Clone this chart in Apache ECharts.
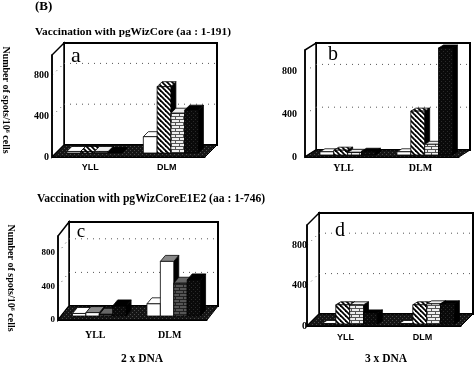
<!DOCTYPE html>
<html><head><meta charset="utf-8">
<style>html,body{margin:0;padding:0;background:#fff}#c{width:474px;height:366px}</style>
<script src="https://cdn.jsdelivr.net/npm/echarts@6/dist/echarts.min.js"></script>
</head><body><div id="c"></div>
<script>
const categories = ['YLL', 'DLM'];
const yTicks = [0, 400, 800];
// values: [YLL, DLM] per bar type
const aOpen = [15, 160], aHatch = [15, 650], aBrick = [15, 390], aSolid = [5, 420];
const bOpen = [30, 30], bHatch = [45, 410], bBrick = [25, 100], bSolid = [35, 1000];
const cOpen = [30, 145], cLight = [40, 650], cBrick = [20, 390], cSolid = [120, 430];
const dOpen = [5, 5], dHatch = [190, 190], dBrick = [190, 200], dSolid = [110, 200];

function tile(w, h, draw) {
  const cv = document.createElement('canvas'); cv.width = w; cv.height = h;
  draw(cv.getContext('2d')); return {image: cv, repeat: 'repeat'};
}
const hatchFill = tile(5, 5, g => {
  g.fillStyle = '#fff'; g.fillRect(0,0,5,5); g.strokeStyle = '#000'; g.lineWidth = 1.8;
  for (let i = -5; i <= 5; i += 5) { g.beginPath(); g.moveTo(i-1,-1); g.lineTo(i+6,6); g.stroke(); }
});
function brick(bg, fg) {
  return tile(8, 6, g => {
    g.fillStyle = bg; g.fillRect(0,0,8,6); g.fillStyle = fg;
    g.fillRect(0,2,8,1); g.fillRect(0,5,8,1); g.fillRect(3,0,1,2); g.fillRect(7,3,1,2);
  });
}
const brickFill = brick('#eee', '#555');
const darkBrickFill = brick('#555', '#222');
const solidFill = tile(4, 4, g => {
  g.fillStyle = '#0a0a0a'; g.fillRect(0,0,4,4); g.fillStyle = '#2a2a2a'; g.fillRect(1,1,1,1); g.fillRect(3,3,1,1);
});
const floorFill = tile(4, 4, g => {
  g.fillStyle = '#151515'; g.fillRect(0,0,4,4); g.fillStyle = '#4a4a4a'; g.fillRect(0,0,1,1); g.fillRect(2,2,1,1);
});

const panels = [
  {x0:52, x1:205, y1:55, y0:157, dx:12, dy:12, lift:4, bd:5, bh:5, letter:'a', lsize:22, lx:76, ly:56,
   vals:[aOpen,aHatch,aBrick,aSolid], fills:['#fff',hatchFill,brickFill,solidFill], tops:['#fff',hatchFill,'#eee','#000'],
   yFont:{fontFamily:'Liberation Serif',fontWeight:'bold',fontSize:10,margin:3},
   xFont:{fontFamily:'Liberation Sans',fontWeight:'bold',fontSize:9,margin:6}},
  {x0:305, x1:459, y1:50, y0:157, dx:11, dy:7, lift:2, bd:5, bh:3, letter:'b', lsize:20, lx:333, ly:55,
   vals:[bOpen,bHatch,bBrick,bSolid], fills:['#fff',hatchFill,brickFill,solidFill], tops:['#fff',hatchFill,'#eee','#000'],
   yFont:{fontFamily:'Liberation Serif',fontWeight:'bold',fontSize:10,margin:8},
   xFont:{fontFamily:'Liberation Serif',fontWeight:'bold',fontSize:10,margin:6}},
  {x0:58, x1:207, y1:236, y0:320, dx:11, dy:14, lift:4, bd:5, bh:6, letter:'c', lsize:19, lx:81, ly:232,
   vals:[cOpen,cLight,cBrick,cSolid], fills:['#fff','#fff',darkBrickFill,solidFill], tops:['#fff','#888','#666','#000'],
   yFont:{fontFamily:'Liberation Sans Narrow',fontWeight:'bold',fontSize:9,margin:3},
   xFont:{fontFamily:'Liberation Sans Narrow',fontWeight:'bold',fontSize:10,margin:10}},
  {x0:307, x1:461, y1:225, y0:326, dx:12, dy:12, lift:2, bd:5, bh:3, letter:'d', lsize:20, lx:340, ly:231,
   vals:[dOpen,dHatch,dBrick,dSolid], fills:['#fff',hatchFill,brickFill,solidFill], tops:['#fff',hatchFill,'#eee','#000'],
   yFont:{fontFamily:'Liberation Serif',fontWeight:'bold',fontSize:10,margin:0},
   xFont:{fontFamily:'Liberation Sans',fontWeight:'bold',fontSize:9,margin:7}}
];

function poly(points, style, z2) { return {type:'polygon', shape:{points}, style, z2: z2||0}; }

const grid = [], xAxis = [], yAxis = [], series = [];
panels.forEach((p, pi) => {
  grid.push({left:p.x0, top:p.y1, width:p.x1-p.x0, height:p.y0-p.y1});
  xAxis.push({type:'category', gridIndex:pi, data:categories, axisLine:{show:true,lineStyle:{color:'#000',width:1}},
    axisTick:{show:false}, z:5,
    axisLabel:{color:'#000',fontFamily:p.xFont.fontFamily,fontWeight:p.xFont.fontWeight,fontSize:p.xFont.fontSize,margin:p.xFont.margin}});
  yAxis.push({type:'value', gridIndex:pi, min:0, max:1000, interval:400, splitLine:{show:false}, z:5,
    axisLine:{show:true,onZero:false,lineStyle:{color:'#000',width:1.5}},
    axisTick:{show:false},
    axisLabel:{color:'#000',customValues:yTicks,fontFamily:p.yFont.fontFamily,fontWeight:p.yFont.fontWeight,fontSize:p.yFont.fontSize,margin:p.yFont.margin}});
  // box
  series.push({type:'custom', xAxisIndex:pi, yAxisIndex:pi, z:1, silent:true, clip:false, data:[[0,0]],
    encode:{x:0,y:1},
    renderItem(params, api) {
      const {x0,x1,dx,dy} = p;
      const y0 = api.coord([0,0])[1], y1 = api.coord([0,1000])[1];
      const line = {fill:'#fff', stroke:'#000', lineWidth:1.5};
      const kids = [
        poly([[x0+dx,y1-dy],[x1+dx,y1-dy],[x1+dx,y0-dy],[x0+dx,y0-dy]], {fill:'#fff',stroke:'#000',lineWidth:2}),
        poly([[x0,y0],[x0,y1],[x0+dx,y1-dy],[x0+dx,y0-dy]], line),
      ];
      yTicks.slice(1).forEach(t => {
        const y = api.coord([0,t])[1];
        const dash = {stroke:'#555',lineWidth:1,lineDash:[1,5],fill:null};
        kids.push({type:'line',shape:{x1:x0+dx,y1:y-dy,x2:x1+dx,y2:y-dy},style:dash});
        kids.push({type:'line',shape:{x1:x0,y1:y,x2:x0+dx,y2:y-dy},style:dash});
      });
      kids.push(poly([[x0,y0],[x1,y0],[x1+dx,y0-dy],[x0+dx,y0-dy]], {fill:floorFill,stroke:'#000',lineWidth:1}));
      return {type:'group',children:kids};
    }});
  // bars
  p.vals.forEach((vals, si) => {
    series.push({type:'custom', xAxisIndex:pi, yAxisIndex:pi, z:2+si, silent:true, clip:false,
      data: vals.map((v,i) => [i,v]), encode:{x:0,y:1},
      renderItem(params, api) {
        const c = api.value(0), v = api.value(1);
        const pt = api.coord([c, v]), base = api.coord([c, 0]);
        const w = api.size([1,0])[0] * 0.18;
        const l = pt[0] + (si-1.7)*w, r = l + w;
        const b = base[1] - p.lift, t = pt[1] - p.lift;
        const s = {stroke:'#000',lineWidth:0.8};
        return {type:'group',children:[
          poly([[r,b],[r,t],[r+p.bd,t-p.bh],[r+p.bd,b-p.bh]], {fill:'#000',stroke:'#000',lineWidth:0.8}),
          poly([[l,t],[r,t],[r+p.bd,t-p.bh],[l+p.bd,t-p.bh]], {fill:p.tops[si],...s}),
          {type:'rect',shape:{x:l,y:t,width:w,height:b-t},style:{fill:p.fills[si],...s}}
        ]};
      }});
  });
});

const serif = 'Liberation Serif';
function txt(x, y, text, size, align) {
  return {type:'text', x, y, z:20, style:{text, fill:'#000', font:`bold ${size}px "${serif}"`, textAlign:align||'left', textVerticalAlign:'middle'}};
}
function yLabel(x, y) {
  return {type:'text', x, y, rotation:-Math.PI/2, z:20, style:{
    text:'Number of spots/10{s|6} cells', fill:'#000', font:`bold 10px "${serif}"`,
    fontFamily:serif, fontWeight:'bold', fontSize:10,
    textAlign:'center', textVerticalAlign:'middle',
    rich:{s:{fontSize:6,fontWeight:'bold',fontFamily:serif,verticalAlign:'top',lineHeight:6}}}};
}
const graphic = [
  txt(35, 7, '(B)', 13),
  txt(35, 32, 'Vaccination with pgWizCore (aa : 1-191)', 11.3),
  txt(37, 199, 'Vaccination with pgWizCoreE1E2 (aa : 1-746)', 11.6),
  yLabel(6, 100),
  yLabel(11, 278),
  txt(142, 359, '2 x DNA', 11.5, 'center'),
  txt(386, 359, '3 x DNA', 11.5, 'center')
];
panels.forEach(p => graphic.push({type:'text', x:p.lx, y:p.ly, z:20, style:{text:p.letter, fill:'#000',
  font:`${p.lsize}px "${serif}"`, textAlign:'center', textVerticalAlign:'middle'}}));

const chart = echarts.init(document.getElementById('c'), null, {renderer:'canvas'});
chart.setOption({animation:false, backgroundColor:'#fff', grid, xAxis, yAxis, series, graphic});
</script></body></html>
